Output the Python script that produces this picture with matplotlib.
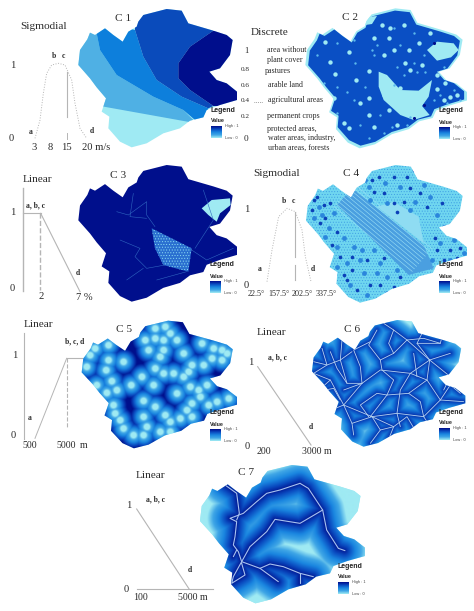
import numpy as np
import matplotlib
matplotlib.use("Agg")
import matplotlib.pyplot as plt
from matplotlib.colors import LinearSegmentedColormap
from matplotlib.patches import Polygon

plt.rcParams['font.family'] = ['Liberation Serif', 'DejaVu Serif']
plt.rcParams['hatch.linewidth'] = 0.4

LIGHT = "#9feaf3"
MID = "#1a86e0"
DARK = "#000f8c"
cmap = LinearSegmentedColormap.from_list("value", [LIGHT, "#3fa6e6", MID, "#0a4bc0", DARK])

ORIGIN = {"C1": (0, 0), "C2": (237, 0), "C3": (0, 160), "C4": (237, 160),
          "C5": (0, 310), "C6": (237, 310), "C7": (100, 460)}

outline = np.array([(415, 65), (430, 45), (500, 27), (545, 32), (565, 70), (640, 92), (680, 105), (698, 120),
                    (690, 165), (660, 205), (628, 215), (650, 240), (680, 250), (711, 275), (711, 300), (660, 315),
                    (620, 330), (610, 352), (570, 362), (540, 385), (490, 400), (440, 430), (395, 442), (360, 425),
                    (325, 385), (328, 350), (305, 335), (318, 295), (290, 262), (270, 235), (235, 195), (240, 150),
                    (262, 118), (270, 98), (285, 105), (315, 85), (340, 105), (368, 125), (385, 95), (410, 80)], float)
bbox = {"C1": (235, 711, 27, 442), "C2": (205, 690, 25, 445), "C3": (235, 711, 15, 425),
        "C4": (207, 690, 15, 428), "C5": (245, 711, 32, 415), "C6": (225, 685, 30, 410),
        "C7": (300, 795, 15, 430)}

# C1 bands, light to dark
c1_bands = [
    ("#4fb0e4", [(230, 60), (290, 100), (300, 150), (350, 225), (460, 290), (550, 330), (590, 370), (200, 300)]),
    ("#0d7fdc", [(280, 60), (405, 90), (430, 170), (470, 240), (545, 290), (625, 325), (610, 370), (585, 360),
                 (550, 330), (460, 290), (350, 225), (300, 150), (290, 100)]),
    ("#0a4bbb", [(405, 20), (650, 20), (640, 92), (570, 140), (535, 190), (535, 235), (570, 270), (640, 318),
                 (625, 325), (545, 290), (470, 240), (430, 170), (405, 90)]),
    ("#000e8c", [(640, 92), (720, 80), (720, 320), (640, 318), (570, 270), (535, 235), (535, 190), (570, 140)]),
]

# C2 light areas
c2_lake = [(425, 215), (450, 225), (490, 270), (545, 272), (585, 240), (575, 290), (555, 318), (578, 345), (530, 360),
           (490, 345), (440, 300), (425, 260)]
c2_upper = [(570, 150), (600, 125), (650, 130), (665, 150), (642, 172), (600, 182)]
c2_corner = [(378, 52), (420, 48), (405, 72), (385, 75)]
c2_spots = [(335, 155), (280, 185), (295, 222), (358, 240), (395, 212), (395, 295), (440, 285), (290, 295), (455, 330),
            (395, 345), (335, 385), (412, 380), (515, 150), (460, 85), (435, 75), (520, 210), (580, 100), (470, 150),
            (455, 115), (505, 190), (640, 290), (620, 300), (660, 285), (500, 75), (545, 130), (410, 115), (265, 125),
            (440, 165), (480, 375), (370, 310), (320, 370), (600, 225), (625, 250), (600, 268), (555, 195), (490, 265)]
c2_small = [(470, 85), (530, 100), (560, 165), (490, 135), (530, 190), (565, 215), (610, 285), (650, 270), (670, 300),
            (420, 135), (405, 150), (300, 260), (330, 275), (350, 300), (430, 345), (370, 375), (510, 375), (300, 340),
            (260, 250), (240, 165), (620, 200), (540, 215), (500, 225), (480, 200), (590, 300), (630, 310), (350, 120),
            (300, 130), (440, 400), (395, 415), (520, 350), (470, 255), (355, 190), (385, 260), (465, 380), (410, 165)]
c2_darks = [(590, 130), (560, 315), (530, 355)]

# C3 streams and light areas
c3_top = [(605, 145), (635, 120), (690, 115), (692, 135), (660, 160), (650, 185), (625, 165)]
c3_speckle = [(455, 205), (575, 265), (565, 335), (490, 315), (465, 265)]
c3_streams = [[(350, 155), (385, 165), (440, 125), (440, 165), (465, 200)],
              [(360, 240), (420, 265), (405, 290), (440, 325), (495, 315)],
              [(585, 265), (640, 180), (610, 90)],
              [(575, 270), (620, 300), (700, 265)],
              [(470, 360), (560, 335)],
              [(400, 100), (390, 170), (440, 175)],
              [(380, 360), (430, 325)]]

# C4 patches
c4_band = [(300, 135), (345, 85), (560, 255), (590, 325), (515, 345)]
c4_light = [(420, 140), (470, 125), (545, 170), (560, 250)]
c4_stripes = [-45, -35, -25, -15, -5, 5, 15, 25, 35, 45]
c4_blobs = [(240, 110), (225, 150), (250, 190), (235, 225), (280, 130), (265, 175), (300, 215), (285, 255), (310, 290),
            (345, 330), (400, 375), (430, 375), (390, 300), (440, 295), (470, 380), (360, 390), (320, 345), (425, 50),
            (470, 50), (510, 50), (470, 130), (500, 125), (550, 100), (480, 155), (520, 85), (405, 60), (600, 270),
            (640, 270), (670, 265), (660, 295), (595, 235), (615, 130), (620, 300), (440, 100), (410, 95), (570, 140),
            (530, 30), (380, 30), (345, 290), (260, 135), (330, 360), (230, 120), (490, 350), (540, 360)]
c4_mid_blobs = [(245, 140), (275, 205), (320, 235), (350, 260), (265, 230), (300, 260), (330, 310), (370, 300),
                (410, 270), (380, 340), (420, 340), (450, 350), (480, 330), (450, 400), (390, 405), (340, 375),
                (300, 320), (375, 270), (400, 120), (395, 80), (445, 70), (490, 80), (535, 125), (560, 75), (580, 110),
                (600, 165), (620, 200), (650, 240), (610, 250), (680, 280), (640, 300), (585, 300), (560, 350),
                (430, 310), (230, 175), (255, 165), (290, 160), (520, 150), (450, 130), (385, 60)]

# C5 buffer centres
c5_centres = [(465, 55), (495, 50), (435, 90), (465, 85), (510, 70), (490, 90), (530, 90), (605, 100), (640, 115),
              (665, 120), (680, 130), (635, 145), (665, 150), (325, 105), (285, 115), (370, 155), (325, 150),
              (270, 135), (260, 170), (318, 180), (335, 213), (393, 225), (425, 200), (465, 175), (490, 190),
              (520, 190), (550, 200), (445, 120), (490, 120), (480, 140), (550, 130), (575, 165), (610, 165),
              (565, 185), (460, 225), (530, 250), (430, 272), (465, 290), (495, 315), (430, 320), (575, 280),
              (620, 225), (595, 240), (600, 260), (570, 230), (650, 275), (685, 265), (625, 285), (350, 240),
              (320, 248), (340, 285), (345, 310), (360, 330), (370, 355), (400, 375), (430, 375), (440, 350),
              (510, 335), (540, 325), (575, 320), (510, 365), (480, 365), (560, 300), (290, 225)]

# C6 road network
c6_roads = [[(255, 115), (270, 165), (230, 190), (280, 210), (320, 285), (405, 320), (470, 350)],
            [(315, 90), (310, 150), (330, 220), (375, 220), (430, 180), (520, 190), (578, 150), (640, 130)],
            [(440, 40), (470, 60), (510, 90), (578, 150), (570, 210), (610, 270), (680, 275)],
            [(510, 90), (470, 130), (430, 150), (435, 180), (470, 210), (450, 255), (400, 320)],
            [(375, 220), (370, 170), (350, 120), (400, 95)],
            [(375, 220), (320, 285), (345, 340), (350, 375)],
            [(405, 320), (430, 360), (400, 400)],
            [(405, 320), (480, 310), (560, 320), (610, 270)],
            [(430, 150), (395, 105), (420, 60)],
            [(450, 255), (515, 250), (570, 210)],
            [(520, 190), (490, 240), (480, 310), (490, 350)],
            [(560, 60), (540, 100), (578, 150)],
            [(230, 155), (270, 165), (310, 150)],
            [(280, 210), (240, 245), (290, 235)],
            [(510, 90), (560, 85), (610, 100)],
            [(578, 150), (640, 200), (620, 240)],
            [(520, 190), (570, 210)],
            [(470, 350), (510, 320), (540, 370)],
            [(320, 285), (295, 295)],
            [(345, 340), (405, 320)],
            [(320, 240), (375, 220)],
            [(430, 360), (470, 350), (450, 400)],
            [(470, 60), (455, 100), (470, 130)],
            [(540, 100), (610, 100), (620, 60)],
            [(540, 200), (530, 130)],
            [(610, 270), (640, 225), (670, 250)],
            [(560, 320), (580, 350)],
            [(290, 235), (310, 270)],
            [(345, 125), (310, 150)],
            [(280, 125), (300, 175), (330, 220)],
            [(395, 320), (370, 285), (420, 250), (450, 255)],
            [(515, 250), (550, 275), (560, 320)]]

# C7 road network
c7_roads = [[(600, 70), (570, 80), (540, 90), (500, 100), (470, 125), (430, 160), (390, 175), (410, 185), (405, 230),
             (400, 255), (415, 275), (425, 305), (480, 325), (535, 365)],
            [(375, 75), (410, 100), (418, 160), (410, 180)],
            [(600, 70), (625, 85), (668, 150), (600, 190), (525, 178), (500, 215), (450, 260), (425, 305)],
            [(668, 150), (680, 210), (715, 265), (735, 272)],
            [(425, 305), (400, 350), (395, 370), (435, 345), (425, 310)],
            [(410, 270), (400, 290)],
            [(480, 325), (510, 312), (550, 320), (600, 340), (640, 350)],
            [(600, 340), (600, 370)]]

# membership functions
c1_curve = [(105, 415), (120, 360), (130, 280), (140, 220), (155, 195), (175, 190), (195, 195), (215, 240), (225, 310),
            (240, 385), (260, 415)]
c4_curve = [(90, 365), (105, 270), (125, 170), (150, 145), (175, 155), (195, 210), (205, 290), (222, 365)]

# texts: crop, x, y, string, size
labels = [("C1", 132, 80, "Sigmodial", 8.5), ("C1", 368, 55, "C 1", 8.5), ("C1", 38, 196, "1", 8), ("C1", 33, 415, "0", 8),
          ("C1", 101, 443, "3", 8), ("C1", 152, 443, "8", 8), ("C1", 199, 443, "15", 8), ("C1", 288, 443, "20 m/s", 8),
          ("C2", 97, 97, "Discrete", 8.5), ("C2", 338, 54, "C 2", 8.5), ("C2", 28, 154, "1", 6.5),
          ("C2", 24, 208, "0.8", 5.5), ("C2", 26, 256, "0.6", 5.5), ("C2", 26, 302, "0.4", 5.5), ("C2", 24, 348, "0.2", 5.5),
          ("C2", 27, 416, "0", 7), ("C2", 150, 151, "area without", 6), ("C2", 142, 179, "plant cover", 6),
          ("C2", 124, 213, "pastures", 6), ("C2", 144, 255, "arable land", 6), ("C2", 175, 301, "agricultural areas", 6),
          ("C2", 170, 348, "permanent crops", 6), ("C2", 165, 388, "protected areas,", 6),
          ("C2", 193, 415, "water areas, industry,", 6), ("C2", 184, 442, "urban areas, forests", 6),
          ("C3", 112, 58, "Linear", 8.5), ("C3", 353, 46, "C 3", 8.5), ("C3", 38, 158, "1", 8), ("C3", 36, 385, "0", 8),
          ("C3", 122, 410, "2", 8), ("C3", 254, 411, "7 %", 8),
          ("C4", 120, 41, "Sigmodial", 8.5), ("C4", 342, 41, "C 4", 8.5), ("C4", 29, 149, "1", 8), ("C4", 28, 378, "0", 8),
          ("C4", 58, 402, "22.5°", 6.2), ("C4", 125, 402, "157.5°", 6.2), ("C4", 197, 402, "202.5°", 6.2),
          ("C4", 267, 402, "337.5°", 6.2),
          ("C5", 117, 43, "Linear", 8.5), ("C5", 371, 57, "C 5", 8.5), ("C5", 43, 138, "1", 8), ("C5", 41, 375, "0", 8),
          ("C5", 88, 408, "500", 7.5), ("C5", 199, 408, "5000", 7.5), ("C5", 250, 408, "m", 7.5),
          ("C6", 105, 67, "Linear", 8.5), ("C6", 345, 58, "C 6", 8.5), ("C6", 40, 158, "1", 8), ("C6", 32, 410, "0", 8),
          ("C6", 80, 426, "200", 7.5), ("C6", 238, 426, "3000 m", 7.5),
          ("C7", 151, 47, "Linear", 8.5), ("C7", 437, 37, "C 7", 8.5), ("C7", 86, 136, "1", 8), ("C7", 79, 390, "0", 8),
          ("C7", 121, 411, "100", 7.5), ("C7", 278, 411, "5000 m", 7.5)]
bold_labels = [("C1", 163, 167, "b"), ("C1", 191, 169, "c"), ("C1", 92, 396, "a"), ("C1", 276, 394, "d"),
               ("C3", 107, 136, "a, b, c"), ("C3", 233, 340, "d"),
               ("C4", 142, 122, "b"), ("C4", 168, 124, "c"), ("C4", 69, 326, "a"), ("C4", 228, 326, "d"),
               ("C5", 223, 94, "b, c, d"), ("C5", 90, 325, "a"),
               ("C6", 122, 142, "a, b, c"), ("C6", 220, 350, "d"),
               ("C7", 168, 119, "a, b, c"), ("C7", 268, 331, "d")]
legends = {"C1": (211, 110), "C2": (439, 111), "C3": (210, 265), "C4": (439, 265),
           "C5": (210, 413), "C6": (439, 412), "C7": (338, 566)}

fig = plt.figure(figsize=(4.74, 6.11), dpi=100)
ax = fig.add_axes([0, 0, 1, 1])
ax.set_xlim(0, 474)
ax.set_ylim(611, 0)
ax.axis("off")


def px(name, pts):
    # crop coords to figure pixels
    pts = np.asarray(pts, float)
    return pts / 3 + ORIGIN[name]


def shape(name):
    x0, x1, y0, y1 = bbox[name]
    o = outline.copy()
    o[:, 0] = x0 + (o[:, 0] - 235) / (711 - 235) * (x1 - x0)
    o[:, 1] = y0 + (o[:, 1] - 27) / (442 - 27) * (y1 - y0)
    return o


def base_patch(name, color):
    p = Polygon(px(name, shape(name)), closed=True, fc=color, ec="none", zorder=2)
    ax.add_patch(p)
    return p


def clipped(name, clip, pts, color, zorder=3):
    p = Polygon(px(name, pts), closed=True, fc=color, ec="none", lw=0, zorder=zorder)
    ax.add_patch(p)
    p.set_clip_path(clip)
    return p


def dots(name, clip, spots, color, size, zorder=4):
    pts = px(name, spots)
    s = ax.scatter(pts[:, 0], pts[:, 1], s=size, c=color, lw=0, zorder=zorder)
    s.set_clip_path(clip)


def grid(name):
    x0, x1, y0, y1 = bbox[name]
    xs = np.arange(x0 - 5, x1 + 5, 1.0)
    ys = np.arange(y0 - 5, y1 + 5, 1.0)
    return np.meshgrid(xs, ys), (xs[0], xs[-1], ys[-1], ys[0])


def seg_dist(X, Y, network):
    best = np.full(X.shape, 1e9)
    for road in network:
        for (ax0, ay0), (bx0, by0) in zip(road[:-1], road[1:]):
            dx, dy = bx0 - ax0, by0 - ay0
            t = np.clip(((X - ax0) * dx + (Y - ay0) * dy) / (dx * dx + dy * dy), 0, 1)
            best = np.minimum(best, np.hypot(X - ax0 - t * dx, Y - ay0 - t * dy))
    return best


def show(name, values, ext, clip):
    o = ORIGIN[name]
    extent = (ext[0] / 3 + o[0], ext[1] / 3 + o[0], ext[2] / 3 + o[1], ext[3] / 3 + o[1])
    im = ax.imshow(values, extent=extent, cmap=cmap, vmin=0, vmax=1, aspect="auto", zorder=3, interpolation="bilinear")
    im.set_clip_path(clip)


def roads(name, clip, network, color, lw):
    for r in network:
        pts = px(name, r)
        line, = ax.plot(pts[:, 0], pts[:, 1], color=color, lw=lw, zorder=5, solid_capstyle="round")
        line.set_clip_path(clip)


# C1
clip = base_patch("C1", LIGHT)
for color, pts in c1_bands:
    clipped("C1", clip, pts, color)

# C2
clip = base_patch("C2", LIGHT)
inner = shape("C2")
inner = inner.mean(axis=0) + (inner - inner.mean(axis=0)) * 0.965
ax.add_patch(Polygon(px("C2", inner), closed=True, fc="#0a4fc4", ec="none", zorder=3))
for pts in (c2_lake, c2_upper, c2_corner):
    clipped("C2", clip, pts, LIGHT, zorder=4)
dots("C2", clip, c2_spots, LIGHT, 10)
dots("C2", clip, c2_small, "#5cb8ec", 3)
dots("C2", clip, c2_darks, DARK, 5, zorder=5)

# C3
clip = base_patch("C3", DARK)
clipped("C3", clip, c3_top, LIGHT)
clipped("C3", clip, c3_speckle, "#2a6fd0")
p2 = Polygon(px("C3", c3_speckle), closed=True, fc="none", ec="#8adcf2", lw=0, hatch="......", zorder=4)
ax.add_patch(p2)
p2.set_clip_path(clip)
roads("C3", clip, c3_streams, "#2f66c0", 0.4)

# C4
clip = base_patch("C4", "#6fd6f0")
tex = Polygon(px("C4", shape("C4")), closed=True, fc="none", ec="#3f9fe4", lw=0, hatch="......", zorder=3)
ax.add_patch(tex)
tex.set_clip_path(clip)
clipped("C4", clip, c4_band, "#4a9fe0", zorder=4)
band_a = np.array([320, 105])
band_b = np.array([555, 300])
normal = np.array([0.65, -0.76])
for off in c4_stripes:
    pts = px("C4", [band_a + normal * off, band_b + normal * off])
    line, = ax.plot(pts[:, 0], pts[:, 1], color="#9be0f5" if off % 10 == 5 else "#1c6cc8", lw=0.4, zorder=5)
    line.set_clip_path(clip)
clipped("C4", clip, c4_light, "#8fdcf2", zorder=5)
dots("C4", clip, c4_mid_blobs, "#2b86dc", 12, zorder=5)
dots("C4", clip, c4_blobs, "#0b3fb8", 7, zorder=6)

# C5
(X, Y), ext = grid("C5")
centres = np.array(c5_centres, float)
d = np.min(np.hypot(X[..., None] - centres[:, 0], Y[..., None] - centres[:, 1]), axis=-1)
clip = base_patch("C5", LIGHT)
show("C5", np.clip((d - 8) / 32, 0, 1) ** 0.8, ext, clip)

# C6
(X, Y), ext = grid("C6")
d = seg_dist(X, Y, c6_roads)
clip = base_patch("C6", LIGHT)
show("C6", np.clip(0.85 - d / 50, 0, 1), ext, clip)
roads("C6", clip, c6_roads, "#b5d5f2", 0.6)

# C7
(X, Y), ext = grid("C7")
d = seg_dist(X, Y, c7_roads)
clip = base_patch("C7", LIGHT)
show("C7", np.clip(0.95 - d / 72, 0, 1), ext, clip)
roads("C7", clip, c7_roads, "#a8c4f0", 0.8)

# membership function lines
GREY = "#b5b5b5"
pts = px("C1", c1_curve)
ax.plot(pts[:, 0], pts[:, 1], color=GREY, lw=0.7, ls=":", zorder=1)
pts = px("C4", c4_curve)
ax.plot(pts[:, 0], pts[:, 1], color=GREY, lw=0.7, ls=":", zorder=1)
for name, seg, lw, ls in [("C1", [(200, 215), (200, 350)], 0.8, "-"), ("C1", [(200, 400), (200, 418)], 0.7, "-"),
                          ("C4", [(175, 155), (175, 290)], 0.8, "-"), ("C4", [(175, 315), (175, 360)], 0.8, "-"),
                          ("C3", [(68, 85), (68, 392)], 1.0, "-"), ("C3", [(68, 160), (122, 160)], 0.8, "-"),
                          ("C3", [(122, 160), (240, 395)], 0.8, "-"), ("C3", [(120, 160), (120, 390)], 1.0, "--"),
                          ("C5", [(73, 68), (73, 388)], 0.8, "-"), ("C5", [(105, 385), (200, 145)], 0.7, "-"),
                          ("C5", [(200, 145), (258, 145)], 0.8, "-"), ("C5", [(200, 145), (200, 350)], 0.8, "--"),
                          ("C6", [(62, 170), (222, 405)], 0.8, "-"),
                          ("C7", [(110, 147), (268, 388)], 0.8, "-"), ("C7", [(110, 388), (340, 388)], 0.8, "-"),
                          ("C2", [(50, 305), (78, 305)], 0.5, ":")]:
    pts = px(name, seg)
    ax.plot(pts[:, 0], pts[:, 1], color=GREY if name != "C2" else "#555555", lw=lw, ls=ls, zorder=1)

for name, x, y, s, size in labels:
    q = px(name, [(x, y)])[0]
    ax.text(q[0], q[1], s, ha="center", va="center", fontsize=size * 0.95, color="#2a2a2a", zorder=8)
for name, x, y, s in bold_labels:
    q = px(name, [(x, y)])[0]
    ax.text(q[0], q[1], s, ha="center", va="center", fontsize=5.5, fontweight="bold", color="#2a2a2a", zorder=8)

# legends
gradient = np.linspace(1, 0, 32).reshape(-1, 1)
for name, (lx, ly) in legends.items():
    ax.text(lx, ly, "Legend", fontsize=5, fontweight="bold", family="Liberation Sans", va="center", zorder=9, color="#222222")
    ax.text(lx, ly + 11, "Value", fontsize=3.8, fontweight="bold", family="Liberation Sans", va="center", zorder=9, color="#222222")
    ax.imshow(gradient, extent=(lx, lx + 11, ly + 28, ly + 16), cmap=cmap, vmin=0, vmax=1, aspect="auto", zorder=9)
    ax.text(lx + 14, ly + 16, "High : 1", fontsize=2.8, family="Liberation Sans", va="center", zorder=9, color="#444444")
    ax.text(lx + 14, ly + 28, "Low : 0", fontsize=2.8, family="Liberation Sans", va="center", zorder=9, color="#444444")

ax.set_xlim(0, 474)
ax.set_ylim(611, 0)
fig.savefig("out.png", dpi=100, facecolor="white")
